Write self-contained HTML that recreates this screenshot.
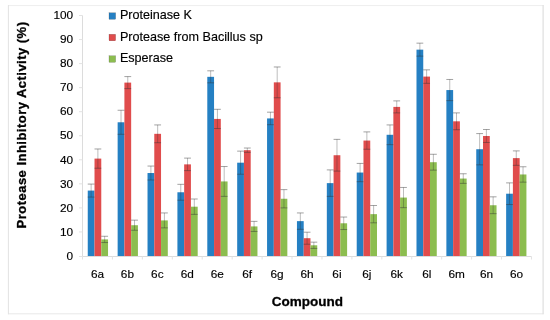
<!DOCTYPE html>
<html lang="en"><head><meta charset="utf-8"><title>Protease Inhibitory Activity</title>
<style>html,body{margin:0;padding:0;background:#fff;overflow:hidden}body{width:550px;height:320px}</style></head>
<body>
<svg width="550" height="320" viewBox="0 0 550 320" style="display:block">
<rect width="550" height="320" fill="#fff"/>
<g fill="none" stroke-width="1"><path d="M8 5.6H543.5" stroke="#eeeeee"/><path d="M8 313.8H543.5" stroke="#e8e8e8"/><path d="M8.4 5.1V314.3" stroke="#e2e2e2"/><path d="M543.1 5.1V314.3" stroke="#dfdfdf" stroke-width="1.2"/></g>
<rect x="87.75" y="190.58" width="6.76" height="65.42" fill="#2580c3"/>
<rect x="94.51" y="158.60" width="6.76" height="97.40" fill="#e04c4c"/>
<rect x="101.27" y="239.41" width="6.76" height="16.59" fill="#8cbd4f"/>
<rect x="117.64" y="122.28" width="6.76" height="133.72" fill="#2580c3"/>
<rect x="124.40" y="82.60" width="6.76" height="173.40" fill="#e04c4c"/>
<rect x="131.16" y="225.22" width="6.76" height="30.78" fill="#8cbd4f"/>
<rect x="147.52" y="173.03" width="6.76" height="82.97" fill="#2580c3"/>
<rect x="154.28" y="133.83" width="6.76" height="122.17" fill="#e04c4c"/>
<rect x="161.04" y="220.41" width="6.76" height="35.59" fill="#8cbd4f"/>
<rect x="177.41" y="192.27" width="6.76" height="63.73" fill="#2580c3"/>
<rect x="184.16" y="164.37" width="6.76" height="91.63" fill="#e04c4c"/>
<rect x="190.93" y="206.70" width="6.76" height="49.30" fill="#8cbd4f"/>
<rect x="207.29" y="76.83" width="6.76" height="179.17" fill="#2580c3"/>
<rect x="214.05" y="118.92" width="6.76" height="137.08" fill="#e04c4c"/>
<rect x="220.81" y="181.44" width="6.76" height="74.56" fill="#8cbd4f"/>
<rect x="237.18" y="162.69" width="6.76" height="93.31" fill="#2580c3"/>
<rect x="243.94" y="150.18" width="6.76" height="105.82" fill="#e04c4c"/>
<rect x="250.70" y="226.42" width="6.76" height="29.58" fill="#8cbd4f"/>
<rect x="267.06" y="118.43" width="6.76" height="137.57" fill="#2580c3"/>
<rect x="273.82" y="82.36" width="6.76" height="173.64" fill="#e04c4c"/>
<rect x="280.58" y="198.76" width="6.76" height="57.24" fill="#8cbd4f"/>
<rect x="296.95" y="221.13" width="6.76" height="34.87" fill="#2580c3"/>
<rect x="303.71" y="238.20" width="6.76" height="17.80" fill="#e04c4c"/>
<rect x="310.47" y="245.30" width="6.76" height="10.70" fill="#8cbd4f"/>
<rect x="326.83" y="183.13" width="6.76" height="72.87" fill="#2580c3"/>
<rect x="333.59" y="155.23" width="6.76" height="100.77" fill="#e04c4c"/>
<rect x="340.35" y="223.29" width="6.76" height="32.71" fill="#8cbd4f"/>
<rect x="356.72" y="172.55" width="6.76" height="83.45" fill="#2580c3"/>
<rect x="363.48" y="140.56" width="6.76" height="115.44" fill="#e04c4c"/>
<rect x="370.24" y="214.15" width="6.76" height="41.85" fill="#8cbd4f"/>
<rect x="386.60" y="134.79" width="6.76" height="121.21" fill="#2580c3"/>
<rect x="393.36" y="106.89" width="6.76" height="149.11" fill="#e04c4c"/>
<rect x="400.12" y="197.56" width="6.76" height="58.44" fill="#8cbd4f"/>
<rect x="416.49" y="49.65" width="6.76" height="206.35" fill="#2580c3"/>
<rect x="423.25" y="76.59" width="6.76" height="179.41" fill="#e04c4c"/>
<rect x="430.00" y="162.21" width="6.76" height="93.79" fill="#8cbd4f"/>
<rect x="446.37" y="90.06" width="6.76" height="165.94" fill="#2580c3"/>
<rect x="453.13" y="121.32" width="6.76" height="134.68" fill="#e04c4c"/>
<rect x="459.89" y="178.56" width="6.76" height="77.44" fill="#8cbd4f"/>
<rect x="476.25" y="149.22" width="6.76" height="106.78" fill="#2580c3"/>
<rect x="483.01" y="135.99" width="6.76" height="120.01" fill="#e04c4c"/>
<rect x="489.77" y="205.25" width="6.76" height="50.75" fill="#8cbd4f"/>
<rect x="506.14" y="193.71" width="6.76" height="62.29" fill="#2580c3"/>
<rect x="512.90" y="158.12" width="6.76" height="97.88" fill="#e04c4c"/>
<rect x="519.66" y="174.47" width="6.76" height="81.53" fill="#8cbd4f"/>
<g stroke="#dcdcdc" stroke-width="1" fill="none">
<path d="M82.5 15.5V256.5H531.5"/>
<path stroke="#e3e3e3" d="M79.0 256.50H82.5M79.0 231.95H82.5M79.0 207.90H82.5M79.0 183.85H82.5M79.0 159.80H82.5M79.0 135.75H82.5M79.0 111.70H82.5M79.0 87.65H82.5M79.0 63.60H82.5M79.0 39.55H82.5M79.0 15.50H82.5M82.50 256.5V259.5M112.43 256.5V259.5M142.37 256.5V259.5M172.30 256.5V259.5M202.23 256.5V259.5M232.16 256.5V259.5M262.10 256.5V259.5M292.03 256.5V259.5M321.96 256.5V259.5M351.90 256.5V259.5M381.83 256.5V259.5M411.76 256.5V259.5M441.70 256.5V259.5M471.63 256.5V259.5M501.56 256.5V259.5M531.50 256.5V259.5"/>
</g>
<g stroke="#333" stroke-opacity="0.36" stroke-width="0.9" fill="none">
<path d="M91.13 184.09V197.08"/><path stroke-opacity="0.5" d="M87.73 184.09h6.8M87.73 197.08h6.8"/>
<path d="M97.89 148.98V168.22"/><path stroke-opacity="0.5" d="M94.49 148.98h6.8M94.49 168.22h6.8"/>
<path d="M104.65 236.28V242.53"/><path stroke-opacity="0.5" d="M101.25 236.28h6.8M101.25 242.53h6.8"/>
<path d="M121.02 110.26V134.31"/><path stroke-opacity="0.5" d="M117.61 110.26h6.8M117.61 134.31h6.8"/>
<path d="M127.78 76.59V88.61"/><path stroke-opacity="0.5" d="M124.38 76.59h6.8M124.38 88.61h6.8"/>
<path d="M134.53 220.17V230.27"/><path stroke-opacity="0.5" d="M131.13 220.17h6.8M131.13 230.27h6.8"/>
<path d="M150.90 166.05V180.00"/><path stroke-opacity="0.5" d="M147.50 166.05h6.8M147.50 180.00h6.8"/>
<path d="M157.66 124.93V142.72"/><path stroke-opacity="0.5" d="M154.26 124.93h6.8M154.26 142.72h6.8"/>
<path d="M164.42 212.95V227.86"/><path stroke-opacity="0.5" d="M161.02 212.95h6.8M161.02 227.86h6.8"/>
<path d="M180.78 184.33V200.20"/><path stroke-opacity="0.5" d="M177.38 184.33h6.8M177.38 200.20h6.8"/>
<path d="M187.54 158.12V170.62"/><path stroke-opacity="0.5" d="M184.14 158.12h6.8M184.14 170.62h6.8"/>
<path d="M194.31 199.00V214.39"/><path stroke-opacity="0.5" d="M190.91 199.00h6.8M190.91 214.39h6.8"/>
<path d="M210.67 70.82V82.84"/><path stroke-opacity="0.5" d="M207.27 70.82h6.8M207.27 82.84h6.8"/>
<path d="M217.43 109.30V128.54"/><path stroke-opacity="0.5" d="M214.03 109.30h6.8M214.03 128.54h6.8"/>
<path d="M224.19 166.53V196.36"/><path stroke-opacity="0.5" d="M220.79 166.53h6.8M220.79 196.36h6.8"/>
<path d="M240.56 151.14V174.23"/><path stroke-opacity="0.5" d="M237.16 151.14h6.8M237.16 174.23h6.8"/>
<path d="M247.31 148.02V152.34"/><path stroke-opacity="0.5" d="M243.91 148.02h6.8M243.91 152.34h6.8"/>
<path d="M254.08 221.37V231.47"/><path stroke-opacity="0.5" d="M250.68 221.37h6.8M250.68 231.47h6.8"/>
<path d="M270.44 112.18V124.69"/><path stroke-opacity="0.5" d="M267.04 112.18h6.8M267.04 124.69h6.8"/>
<path d="M277.20 66.97V97.75"/><path stroke-opacity="0.5" d="M273.80 66.97h6.8M273.80 97.75h6.8"/>
<path d="M283.96 189.62V207.90"/><path stroke-opacity="0.5" d="M280.56 189.62h6.8M280.56 207.90h6.8"/>
<path d="M300.33 212.95V229.30"/><path stroke-opacity="0.5" d="M296.93 212.95h6.8M296.93 229.30h6.8"/>
<path d="M307.09 232.19V244.22"/><path stroke-opacity="0.5" d="M303.69 232.19h6.8M303.69 244.22h6.8"/>
<path d="M313.85 242.17V248.42"/><path stroke-opacity="0.5" d="M310.45 242.17h6.8M310.45 248.42h6.8"/>
<path d="M330.21 169.90V196.36"/><path stroke-opacity="0.5" d="M326.81 169.90h6.8M326.81 196.36h6.8"/>
<path d="M336.97 139.36V171.10"/><path stroke-opacity="0.5" d="M333.57 139.36h6.8M333.57 171.10h6.8"/>
<path d="M343.73 217.04V229.55"/><path stroke-opacity="0.5" d="M340.33 217.04h6.8M340.33 229.55h6.8"/>
<path d="M360.10 163.41V181.69"/><path stroke-opacity="0.5" d="M356.70 163.41h6.8M356.70 181.69h6.8"/>
<path d="M366.86 131.90V149.22"/><path stroke-opacity="0.5" d="M363.46 131.90h6.8M363.46 149.22h6.8"/>
<path d="M373.62 205.50V222.81"/><path stroke-opacity="0.5" d="M370.22 205.50h6.8M370.22 222.81h6.8"/>
<path d="M389.98 124.93V144.65"/><path stroke-opacity="0.5" d="M386.58 124.93h6.8M386.58 144.65h6.8"/>
<path d="M396.74 100.88V112.90"/><path stroke-opacity="0.5" d="M393.34 100.88h6.8M393.34 112.90h6.8"/>
<path d="M403.50 187.46V207.66"/><path stroke-opacity="0.5" d="M400.10 187.46h6.8M400.10 207.66h6.8"/>
<path d="M419.87 43.16V56.14"/><path stroke-opacity="0.5" d="M416.47 43.16h6.8M416.47 56.14h6.8"/>
<path d="M426.62 69.85V83.32"/><path stroke-opacity="0.5" d="M423.23 69.85h6.8M423.23 83.32h6.8"/>
<path d="M433.38 154.27V170.14"/><path stroke-opacity="0.5" d="M429.99 154.27h6.8M429.99 170.14h6.8"/>
<path d="M449.75 79.47V100.64"/><path stroke-opacity="0.5" d="M446.35 79.47h6.8M446.35 100.64h6.8"/>
<path d="M456.51 112.90V129.74"/><path stroke-opacity="0.5" d="M453.11 112.90h6.8M453.11 129.74h6.8"/>
<path d="M463.27 173.75V183.37"/><path stroke-opacity="0.5" d="M459.87 173.75h6.8M459.87 183.37h6.8"/>
<path d="M479.63 133.59V164.85"/><path stroke-opacity="0.5" d="M476.24 133.59h6.8M476.24 164.85h6.8"/>
<path d="M486.39 129.50V142.48"/><path stroke-opacity="0.5" d="M483.00 129.50h6.8M483.00 142.48h6.8"/>
<path d="M493.15 196.84V213.67"/><path stroke-opacity="0.5" d="M489.75 196.84h6.8M489.75 213.67h6.8"/>
<path d="M509.52 182.89V204.53"/><path stroke-opacity="0.5" d="M506.12 182.89h6.8M506.12 204.53h6.8"/>
<path d="M516.28 150.90V165.33"/><path stroke-opacity="0.5" d="M512.88 150.90h6.8M512.88 165.33h6.8"/>
<path d="M523.04 166.77V182.17"/><path stroke-opacity="0.5" d="M519.64 166.77h6.8M519.64 182.17h6.8"/>
</g>
<g font-family="'Liberation Sans', Arial, sans-serif" font-size="11.8" fill="#000" stroke="#000" stroke-width="0.15">
<text x="73.1" y="259.70" text-anchor="end">0</text>
<text x="73.1" y="235.65" text-anchor="end">10</text>
<text x="73.1" y="211.60" text-anchor="end">20</text>
<text x="73.1" y="187.55" text-anchor="end">30</text>
<text x="73.1" y="163.50" text-anchor="end">40</text>
<text x="73.1" y="139.45" text-anchor="end">50</text>
<text x="73.1" y="115.40" text-anchor="end">60</text>
<text x="73.1" y="91.35" text-anchor="end">70</text>
<text x="73.1" y="67.30" text-anchor="end">80</text>
<text x="73.1" y="43.25" text-anchor="end">90</text>
<text x="73.1" y="19.20" text-anchor="end">100</text>
<text x="97.47" y="277.8" text-anchor="middle">6a</text>
<text x="127.40" y="277.8" text-anchor="middle">6b</text>
<text x="157.33" y="277.8" text-anchor="middle">6c</text>
<text x="187.27" y="277.8" text-anchor="middle">6d</text>
<text x="217.20" y="277.8" text-anchor="middle">6e</text>
<text x="247.13" y="277.8" text-anchor="middle">6f</text>
<text x="277.06" y="277.8" text-anchor="middle">6g</text>
<text x="307.00" y="277.8" text-anchor="middle">6h</text>
<text x="336.93" y="277.8" text-anchor="middle">6i</text>
<text x="366.86" y="277.8" text-anchor="middle">6j</text>
<text x="396.80" y="277.8" text-anchor="middle">6k</text>
<text x="426.73" y="277.8" text-anchor="middle">6l</text>
<text x="456.66" y="277.8" text-anchor="middle">6m</text>
<text x="486.60" y="277.8" text-anchor="middle">6n</text>
<text x="516.53" y="277.8" text-anchor="middle">6o</text>
</g>
<g font-family="'Liberation Sans', Arial, sans-serif" font-size="12.6" fill="#000" stroke="#000" stroke-width="0.15">
<rect x="109.0" y="12.80" width="6.6" height="6.5" fill="#2580c3"/>
<text x="119.9" y="19.30">Proteinase K</text>
<rect x="109.0" y="34.30" width="6.6" height="6.5" fill="#e04c4c"/>
<text x="119.9" y="40.80">Protease from Bacillus sp</text>
<rect x="109.0" y="55.80" width="6.6" height="6.5" fill="#8cbd4f"/>
<text x="119.9" y="62.30">Esperase</text>
</g>
<g font-family="'Liberation Sans', Arial, sans-serif" font-weight="bold" fill="#000" stroke="#000" stroke-width="0.3">
<text x="307.3" y="306" font-size="13.5" text-anchor="middle">Compound</text>
<text transform="translate(26.4 228.4) rotate(-90)" font-size="13" textLength="206.4" lengthAdjust="spacing">Protease Inhibitory Activity (%)</text>
</g>
</svg>
</body></html>
